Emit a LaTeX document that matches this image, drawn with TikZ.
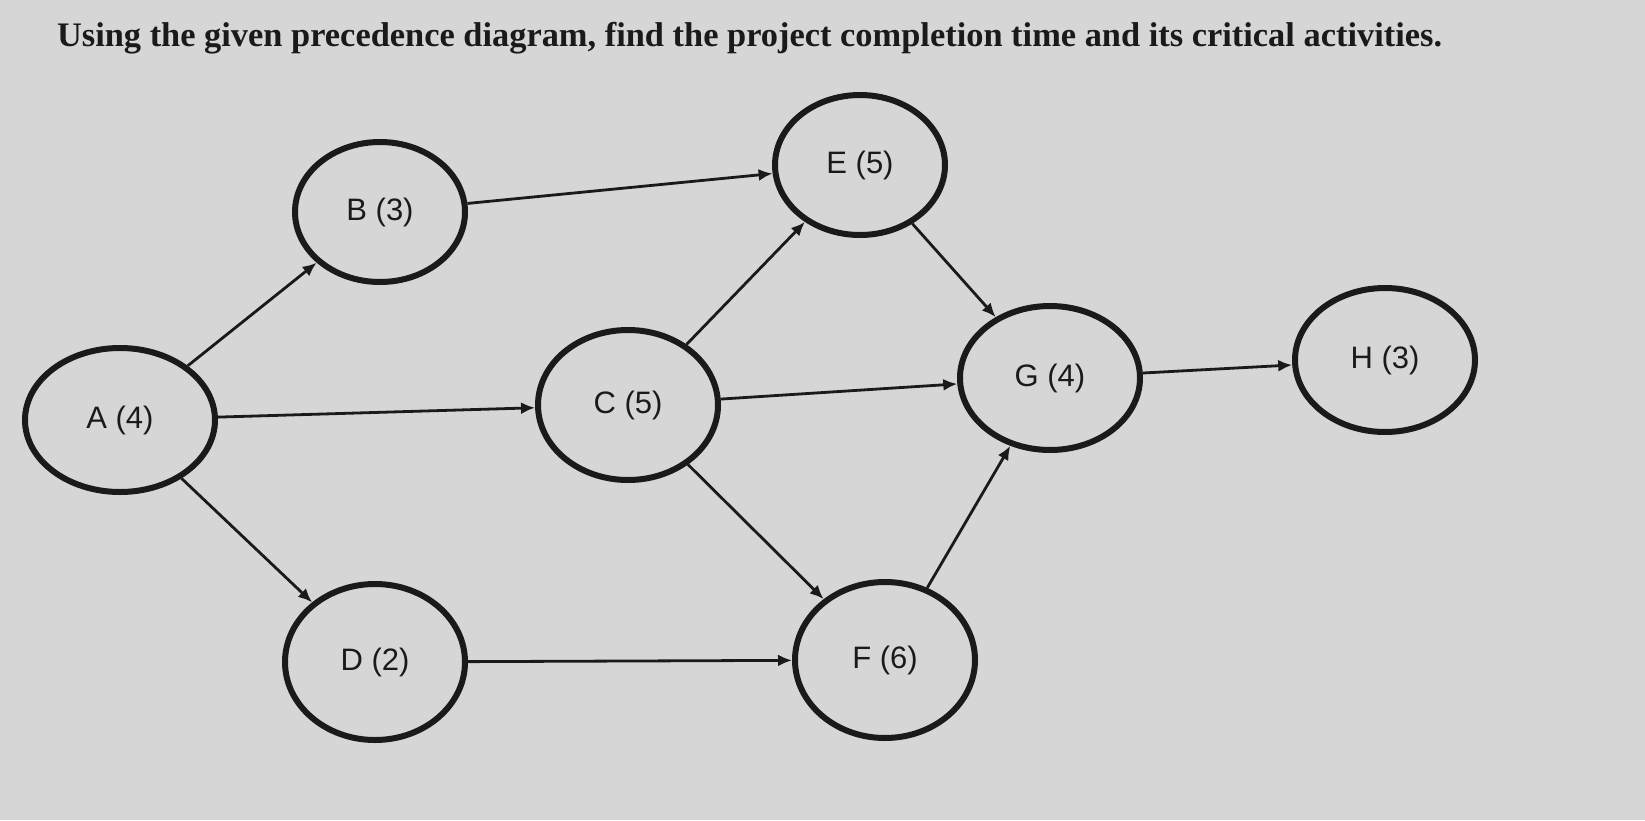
\documentclass[tikz,border=0pt]{standalone}
\usepackage{fontspec}
\setmainfont{Liberation Serif}
\setsansfont{Liberation Sans}
\usetikzlibrary{shapes.geometric,arrows.meta}
\definecolor{bg}{HTML}{D6D6D6}
\definecolor{ink}{HTML}{1A1A1A}
\tikzset{
  act/.style={ellipse,draw=ink,line width=3pt,minimum width=#1,inner sep=0pt,font=\sffamily\fontsize{15.5}{18}\selectfont,text=ink},
  link/.style={draw=ink,line width=1.4pt,-{Latex[length=7pt,width=6pt]}}
}
\begin{document}
\begin{tikzpicture}[x=0.5pt,y=-0.5pt]
\fill[bg] (0,0) rectangle (1645,820);
\useasboundingbox (0,0) rectangle (1645,820);
\node[font=\bfseries\fontsize{17.2}{20}\selectfont,text=ink,anchor=west] (title) at (50,38) {Using the given precedence diagram, find the project completion time and its critical activities.};
\node[act=95pt,minimum height=72pt] (A) at (120,420) {A (4)};
\node[act=85pt,minimum height=70pt] (B) at (380,212) {B (3)};
\node[act=85pt,minimum height=70pt] (E) at (860,165) {E (5)};
\node[act=90pt,minimum height=75pt] (C) at (628,405) {C (5)};
\node[act=90pt,minimum height=72pt] (G) at (1050,378) {G (4)};
\node[act=90pt,minimum height=72pt] (H) at (1385,360) {H (3)};
\node[act=90pt,minimum height=78pt] (D) at (375,662) {D (2)};
\node[act=90pt,minimum height=78pt] (F) at (885,660) {F (6)};
\draw[link] (A) -- (B);
\draw[link] (A) -- (C);
\draw[link] (A) -- (D);
\draw[link] (B) -- (E);
\draw[link] (C) -- (E);
\draw[link] (C) -- (G);
\draw[link] (C) -- (F);
\draw[link] (E) -- (G);
\draw[link] (F) -- (G);
\draw[link] (G) -- (H);
\draw[link] (D) -- (F);
\end{tikzpicture}
\end{document}
